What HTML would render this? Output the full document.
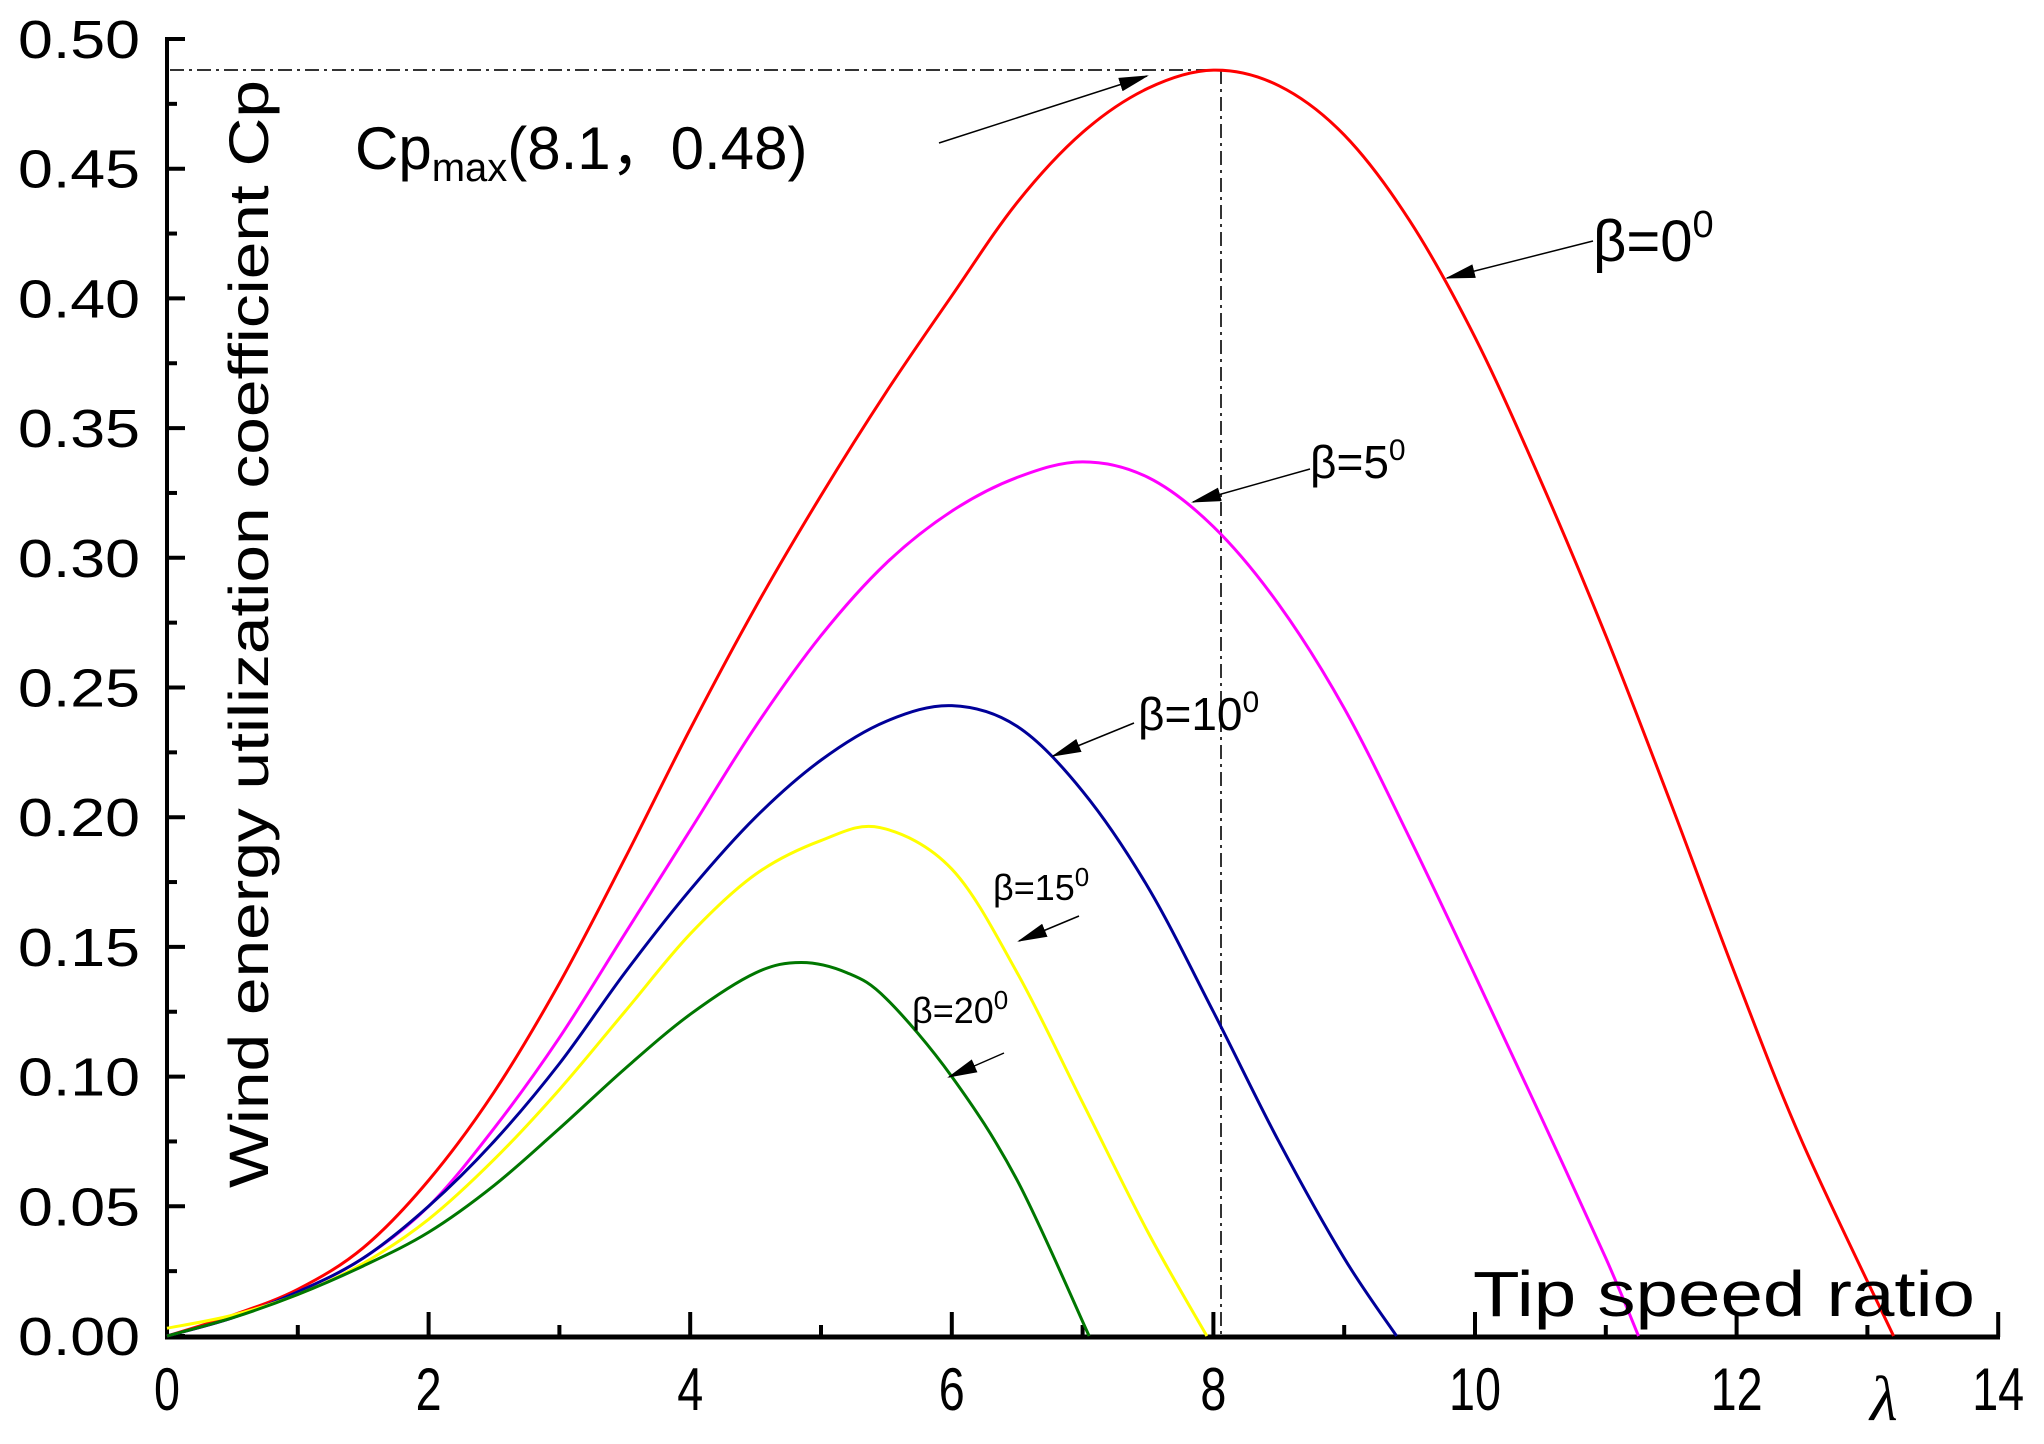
<!DOCTYPE html>
<html><head><meta charset="utf-8"><style>
html,body{margin:0;padding:0;background:#fff;}
svg{display:block;font-family:"Liberation Sans",sans-serif;}
</style></head><body>
<svg id="s" width="2044" height="1444" viewBox="0 0 2044 1444" xmlns="http://www.w3.org/2000/svg">
<defs>
<marker id="ah2" markerWidth="30" markerHeight="14" refX="28" refY="7" orient="auto" markerUnits="userSpaceOnUse"><path d="M0,0 L30,7 L0,14z" fill="#000"/></marker></defs>
<g id="ticks" stroke="#000" stroke-width="4"></g>
<line x1="167" y1="37" x2="167" y2="1338" stroke="#000" stroke-width="4"/>
<line x1="165" y1="1337" x2="2000" y2="1337" stroke="#000" stroke-width="5"/>
<line x1="170" y1="70" x2="1221" y2="70" stroke="#333" stroke-width="2" stroke-dasharray="14,5,3,5"/>
<line x1="1221" y1="70" x2="1221" y2="1336" stroke="#333" stroke-width="2" stroke-dasharray="14,5,3,5"/>
<g id="curves" fill="none" stroke-width="3"></g>
<g id="labels" font-size="54" fill="#000"></g>
<text transform="translate(268,1188) rotate(-90)" font-size="56" textLength="1108" lengthAdjust="spacingAndGlyphs">Wind energy utilization coefficient Cp</text>
<text x="355" y="169" font-size="60">Cp<tspan font-size="40" dy="12">max</tspan><tspan dy="-12">(8.1，0.48)</tspan></text>
<text x="1473" y="1316" font-size="64" textLength="502" lengthAdjust="spacingAndGlyphs">Tip speed ratio</text>
<text x="1870" y="1420" font-size="64" font-style="italic" font-family="Liberation Serif,serif">λ</text>
<text x="1593" y="261" font-size="58">β=0<tspan font-size="38" dy="-24">0</tspan></text>
<text x="1310" y="478" font-size="46">β=5<tspan font-size="30" dy="-18">0</tspan></text>
<text x="1138" y="730" font-size="46">β=10<tspan font-size="30" dy="-18">0</tspan></text>
<text x="993" y="900" font-size="36">β=15<tspan font-size="26" dy="-14">0</tspan></text>
<text x="912" y="1023" font-size="36">β=20<tspan font-size="26" dy="-14">0</tspan></text>
<g stroke="#000" stroke-width="1.5" marker-end="url(#ah2)">
<line x1="939" y1="143" x2="1147" y2="76"/>
<line x1="1593" y1="241" x2="1447" y2="278"/>
<line x1="1310" y1="469" x2="1193" y2="502"/>
<line x1="1134" y1="723" x2="1053" y2="756"/>
<line x1="1079" y1="916" x2="1019" y2="941"/>
<line x1="1004" y1="1053" x2="949" y2="1077"/>
</g>
</svg>
<script>
const X=l=>167+130.8*l, Y=c=>1336-2594*c;
const ns="http://www.w3.org/2000/svg";
function el(p,t,a,txt){const e=document.createElementNS(ns,t);for(const k in a)e.setAttribute(k,a[k]);if(txt!=null)e.textContent=txt;p.appendChild(e);return e;}
const T=document.getElementById('ticks'),L=document.getElementById('labels'),C=document.getElementById('curves');
for(let i=0;i<=20;i++){const y=Y(i*0.025);el(T,'line',{x1:167,y1:y,x2:167+(i%2?10:18),y2:y});
 if(i%2==0)el(L,'text',{x:140,y:y+19,'text-anchor':'end',textLength:122,lengthAdjust:'spacingAndGlyphs'},(i*0.025).toFixed(2));}
for(let i=0;i<=14;i++){const x=X(i);el(T,'line',{x1:x,y1:1337,x2:x,y2:1337-(i%2?12:25)});
 if(i%2==0){const s=String(i);el(L,'text',{x:x,y:1410,'font-size':60,'text-anchor':'middle',textLength:s.length*26,lengthAdjust:'spacingAndGlyphs'},s);}}
const D={
'#ff0000':[[0,0],[0.5,0.008],[1,0.018],[1.5,0.034],[2,0.06],[2.5,0.094],[3,0.136],[3.5,0.184],[4,0.234],[4.5,0.281],[5,0.324],[5.5,0.364],[6,0.401],[6.5,0.437],[7,0.464],[7.5,0.481],[8,0.488],[8.5,0.482],[9,0.463],[9.5,0.43],[10,0.385],[10.5,0.33],[11,0.27],[11.5,0.205],[12,0.138],[12.5,0.075],[13.2,0]],
'#ff00ff':[[0,0],[0.5,0.007],[1,0.017],[1.5,0.03],[2,0.05],[2.5,0.08],[3,0.115],[3.5,0.155],[4,0.195],[4.5,0.235],[5,0.27],[5.5,0.298],[6,0.318],[6.5,0.331],[7,0.337],[7.5,0.331],[8,0.312],[8.5,0.282],[9,0.242],[9.5,0.192],[10,0.139],[10.5,0.085],[11,0.03],[11.25,0]],
'#000099':[[0,0],[0.5,0.007],[1,0.017],[1.5,0.03],[2,0.05],[2.5,0.075],[3,0.105],[3.5,0.14],[4,0.172],[4.5,0.2],[5,0.222],[5.5,0.237],[6,0.243],[6.5,0.235],[7,0.21],[7.5,0.173],[8,0.125],[8.5,0.075],[9,0.03],[9.4,0]],
'#ffff00':[[0,0.003],[0.5,0.008],[1,0.016],[1.5,0.028],[2,0.045],[2.5,0.068],[3,0.095],[3.5,0.125],[4,0.155],[4.5,0.178],[5,0.191],[5.45,0.196],[6,0.18],[6.5,0.14],[7,0.09],[7.5,0.04],[7.95,0]],
'#007700':[[0,0],[0.5,0.007],[1,0.016],[1.5,0.027],[2,0.04],[2.5,0.058],[3,0.08],[3.5,0.103],[4,0.124],[4.5,0.14],[4.85,0.144],[5.2,0.14],[5.5,0.13],[6,0.1],[6.5,0.06],[7.05,0]]};
for(const col in D){const p=D[col].map(q=>[X(q[0]),Y(q[1])]);let d='M'+p[0];
 for(let i=0;i<p.length-1;i++){const a=p[Math.max(i-1,0)],b=p[i],c=p[i+1],e=p[Math.min(i+2,p.length-1)];
  d+=' C'+(b[0]+(c[0]-a[0])/6)+','+(b[1]+(c[1]-a[1])/6)+' '+(c[0]-(e[0]-b[0])/6)+','+(c[1]-(e[1]-b[1])/6)+' '+c[0]+','+c[1];}
 el(C,'path',{d:d,stroke:col});}
</script>
</body></html>
